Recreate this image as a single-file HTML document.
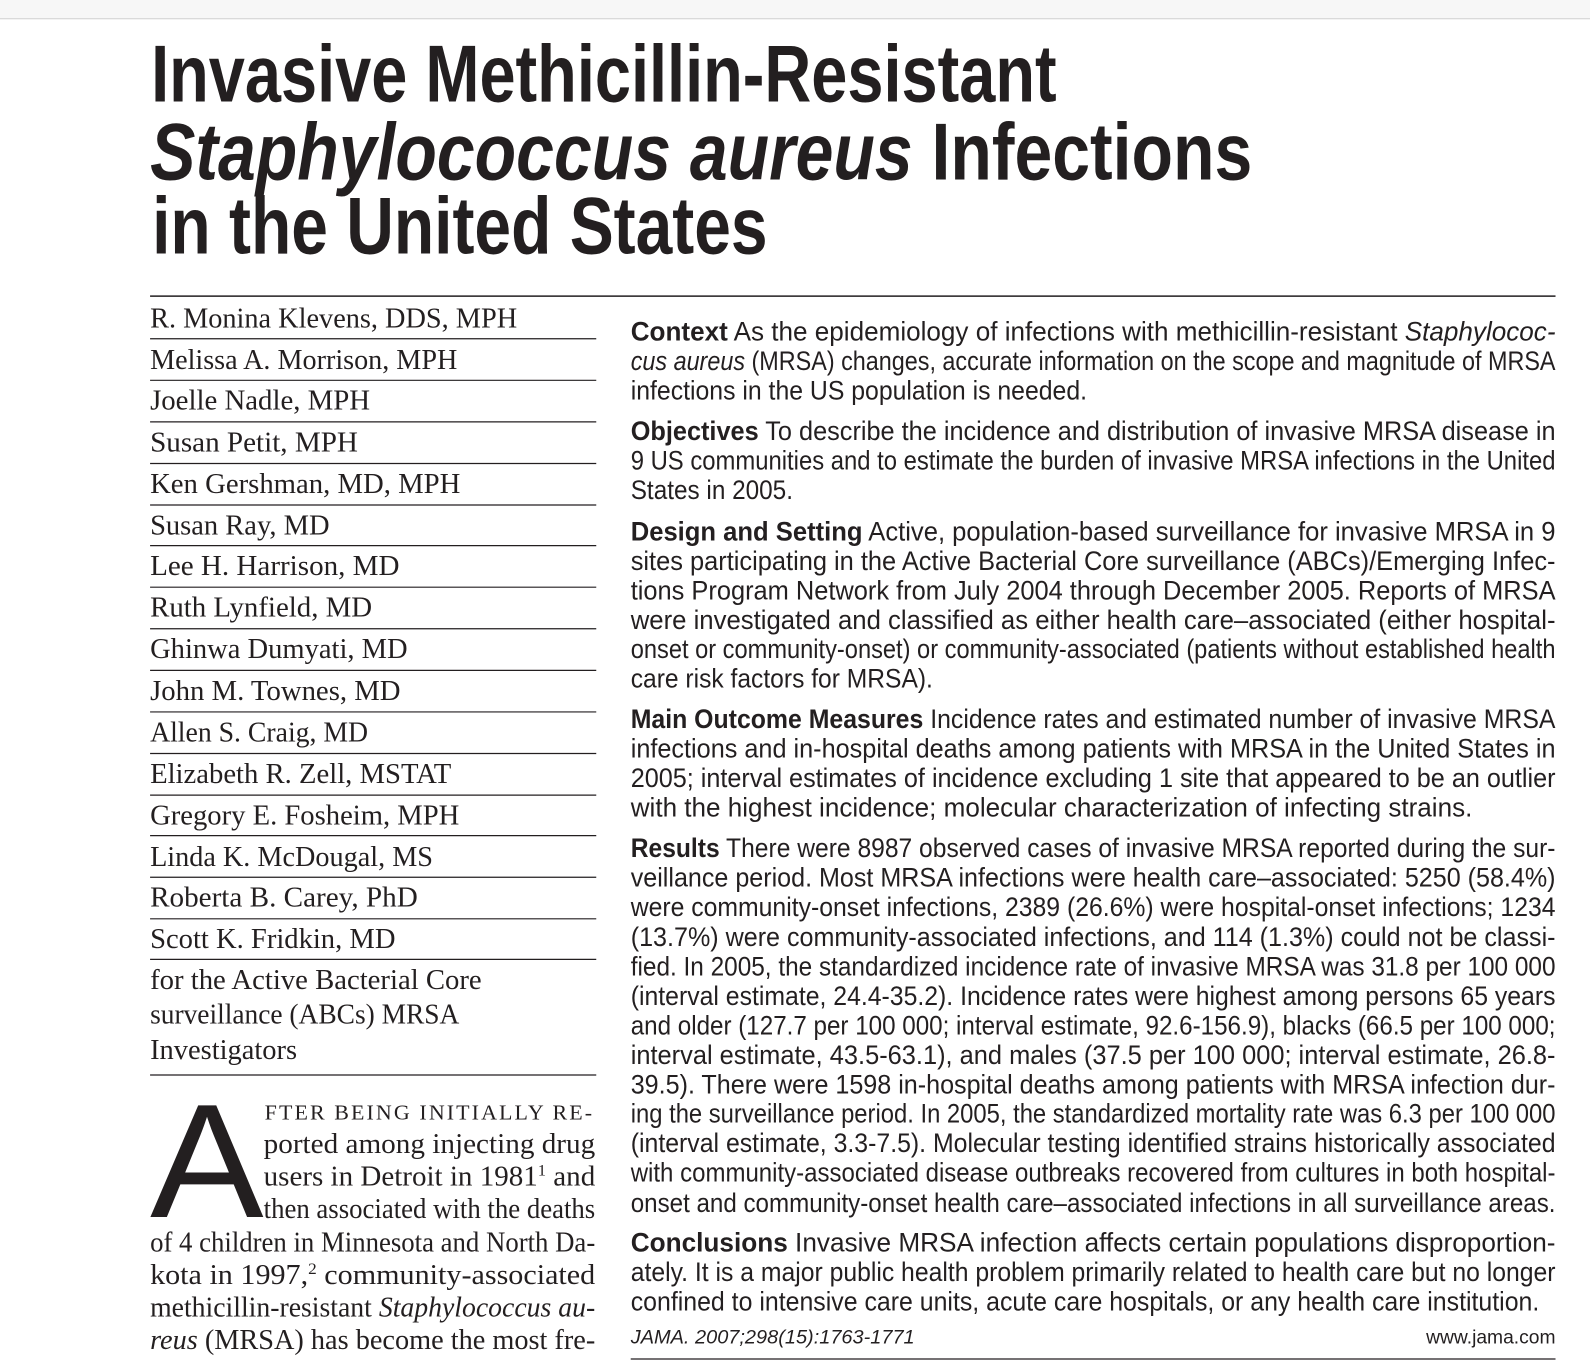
<!DOCTYPE html>
<html><head><meta charset="utf-8"><style>
html,body{margin:0;padding:0;background:#fff;}
svg{display:block}
.s{font-family:"Liberation Sans Narrow","Liberation Sans",sans-serif;}
.r{font-family:"Liberation Serif",serif;font-size:28px;fill:#231f20}
.b{font-family:"Liberation Sans Narrow","Liberation Sans",sans-serif;font-size:26px;fill:#231f20}
</style></head><body>
<svg width="1590" height="1362" viewBox="0 0 1568 1343" preserveAspectRatio="none" xmlns="http://www.w3.org/2000/svg">
<rect x="0" y="0" width="1568" height="18" fill="#f7f7f7"/>
<line x1="0" y1="18.5" x2="1568" y2="18.5" stroke="#d0d0d0" stroke-width="1"/>
<g class="s" font-weight="bold" font-size="80" fill="#231f20">
<text x="149" y="100" textLength="893" lengthAdjust="spacingAndGlyphs">Invasive Methicillin-Resistant</text>
<text x="148" y="177" textLength="1087" lengthAdjust="spacingAndGlyphs"><tspan font-style="italic">Staphylococcus aureus</tspan> Infections</text>
<text x="150" y="250" textLength="607" lengthAdjust="spacingAndGlyphs">in the United States</text>
</g>
<line x1="148" y1="292" x2="1534" y2="292" stroke="#231f20" stroke-width="1.5"/>
<g class="r">
<text x="148" y="323" textLength="362" lengthAdjust="spacingAndGlyphs">R. Monina Klevens, DDS, MPH</text>
<text x="148" y="364" textLength="303" lengthAdjust="spacingAndGlyphs">Melissa A. Morrison, MPH</text>
<text x="148" y="404" textLength="217" lengthAdjust="spacingAndGlyphs">Joelle Nadle, MPH</text>
<text x="148" y="445" textLength="205" lengthAdjust="spacingAndGlyphs">Susan Petit, MPH</text>
<text x="148" y="486" textLength="306" lengthAdjust="spacingAndGlyphs">Ken Gershman, MD, MPH</text>
<text x="148" y="527" textLength="177" lengthAdjust="spacingAndGlyphs">Susan Ray, MD</text>
<text x="148" y="567" textLength="246" lengthAdjust="spacingAndGlyphs">Lee H. Harrison, MD</text>
<text x="148" y="608" textLength="219" lengthAdjust="spacingAndGlyphs">Ruth Lynfield, MD</text>
<text x="148" y="649" textLength="254" lengthAdjust="spacingAndGlyphs">Ghinwa Dumyati, MD</text>
<text x="148" y="690" textLength="247" lengthAdjust="spacingAndGlyphs">John M. Townes, MD</text>
<text x="148" y="731" textLength="215" lengthAdjust="spacingAndGlyphs">Allen S. Craig, MD</text>
<text x="148" y="772" textLength="297" lengthAdjust="spacingAndGlyphs">Elizabeth R. Zell, MSTAT</text>
<text x="148" y="813" textLength="305" lengthAdjust="spacingAndGlyphs">Gregory E. Fosheim, MPH</text>
<text x="148" y="854" textLength="279" lengthAdjust="spacingAndGlyphs">Linda K. McDougal, MS</text>
<text x="148" y="894" textLength="264" lengthAdjust="spacingAndGlyphs">Roberta B. Carey, PhD</text>
<text x="148" y="935" textLength="242" lengthAdjust="spacingAndGlyphs">Scott K. Fridkin, MD</text>
<text x="148" y="975" textLength="327" lengthAdjust="spacingAndGlyphs">for the Active Bacterial Core</text>
<text x="148" y="1009" textLength="305" lengthAdjust="spacingAndGlyphs">surveillance (ABCs) MRSA</text>
<text x="148" y="1044" textLength="145" lengthAdjust="spacingAndGlyphs">Investigators</text>
</g>
<g stroke="#231f20" stroke-width="1.2">
<line x1="148" y1="334" x2="588" y2="334"/><line x1="148" y1="375" x2="588" y2="375"/>
<line x1="148" y1="416" x2="588" y2="416"/><line x1="148" y1="457" x2="588" y2="457"/>
<line x1="148" y1="498" x2="588" y2="498"/><line x1="148" y1="538" x2="588" y2="538"/>
<line x1="148" y1="579" x2="588" y2="579"/><line x1="148" y1="620" x2="588" y2="620"/>
<line x1="148" y1="661" x2="588" y2="661"/><line x1="148" y1="702" x2="588" y2="702"/>
<line x1="148" y1="743" x2="588" y2="743"/><line x1="148" y1="784" x2="588" y2="784"/>
<line x1="148" y1="824" x2="588" y2="824"/><line x1="148" y1="865" x2="588" y2="865"/>
<line x1="148" y1="906" x2="588" y2="906"/><line x1="148" y1="946" x2="588" y2="946"/>
<line x1="148" y1="1060" x2="588" y2="1060"/>
<line x1="622" y1="1340" x2="1534" y2="1340"/>
</g>
<text x="148" y="1200" font-family="Liberation Sans, sans-serif" font-size="160" fill="#231f20" textLength="112" lengthAdjust="spacingAndGlyphs">A</text>
<g class="r">
<text x="261" y="1104" font-size="21" letter-spacing="2" textLength="325" lengthAdjust="spacingAndGlyphs">FTER BEING INITIALLY RE-</text>
<text x="260" y="1137" textLength="327" lengthAdjust="spacingAndGlyphs">ported among injecting drug</text>
<text x="260" y="1169" textLength="327" lengthAdjust="spacingAndGlyphs">users in Detroit in 1981<tspan font-size="16" dy="-10">1</tspan><tspan dy="10"> and</tspan></text>
<text x="260" y="1201" textLength="327" lengthAdjust="spacingAndGlyphs">then associated with the deaths</text>
<text x="148" y="1234" textLength="439" lengthAdjust="spacingAndGlyphs">of 4 children in Minnesota and North Da-</text>
<text x="148" y="1266" textLength="439" lengthAdjust="spacingAndGlyphs">kota in 1997,<tspan font-size="16" dy="-10">2</tspan><tspan dy="10"> community-associated</tspan></text>
<text x="148" y="1298" textLength="439" lengthAdjust="spacingAndGlyphs">methicillin-resistant <tspan font-style="italic">Staphylococcus au-</tspan></text>
<text x="148" y="1330" textLength="439" lengthAdjust="spacingAndGlyphs"><tspan font-style="italic">reus</tspan> (MRSA) has become the most fre-</text>
</g>
<g class="b">
<text x="622" y="336" textLength="912" lengthAdjust="spacingAndGlyphs"><tspan font-weight="bold">Context</tspan>  As the epidemiology of infections with methicillin-resistant <tspan font-style="italic">Staphylococ-</tspan></text>
<text x="622" y="365" textLength="912" lengthAdjust="spacingAndGlyphs"><tspan font-style="italic">cus aureus</tspan> (MRSA) changes, accurate information on the scope and magnitude of MRSA</text>
<text x="622" y="394" textLength="450" lengthAdjust="spacingAndGlyphs">infections in the US population is needed.</text>
<text x="622" y="434" textLength="912" lengthAdjust="spacingAndGlyphs"><tspan font-weight="bold">Objectives</tspan>  To describe the incidence and distribution of invasive MRSA disease in</text>
<text x="622" y="463" textLength="912" lengthAdjust="spacingAndGlyphs">9 US communities and to estimate the burden of invasive MRSA infections in the United</text>
<text x="622" y="492" textLength="160" lengthAdjust="spacingAndGlyphs">States in 2005.</text>
<text x="622" y="533" textLength="912" lengthAdjust="spacingAndGlyphs"><tspan font-weight="bold">Design and Setting</tspan>  Active, population-based surveillance for invasive MRSA in 9</text>
<text x="622" y="562" textLength="912" lengthAdjust="spacingAndGlyphs">sites participating in the Active Bacterial Core surveillance (ABCs)/Emerging Infec-</text>
<text x="622" y="591" textLength="912" lengthAdjust="spacingAndGlyphs">tions Program Network from July 2004 through December 2005. Reports of MRSA</text>
<text x="622" y="620" textLength="912" lengthAdjust="spacingAndGlyphs">were investigated and classified as either health care–associated (either hospital-</text>
<text x="622" y="649" textLength="912" lengthAdjust="spacingAndGlyphs">onset or community-onset) or community-associated (patients without established health</text>
<text x="622" y="678" textLength="298" lengthAdjust="spacingAndGlyphs">care risk factors for MRSA).</text>
<text x="622" y="718" textLength="912" lengthAdjust="spacingAndGlyphs"><tspan font-weight="bold">Main Outcome Measures</tspan>  Incidence rates and estimated number of invasive MRSA</text>
<text x="622" y="747" textLength="912" lengthAdjust="spacingAndGlyphs">infections and in-hospital deaths among patients with MRSA in the United States in</text>
<text x="622" y="776" textLength="912" lengthAdjust="spacingAndGlyphs">2005; interval estimates of incidence excluding 1 site that appeared to be an outlier</text>
<text x="622" y="805" textLength="830" lengthAdjust="spacingAndGlyphs">with the highest incidence; molecular characterization of infecting strains.</text>
<text x="622" y="845" textLength="912" lengthAdjust="spacingAndGlyphs"><tspan font-weight="bold">Results</tspan>  There were 8987 observed cases of invasive MRSA reported during the sur-</text>
<text x="622" y="874" textLength="912" lengthAdjust="spacingAndGlyphs">veillance period. Most MRSA infections were health care–associated: 5250 (58.4%)</text>
<text x="622" y="903" textLength="912" lengthAdjust="spacingAndGlyphs">were community-onset infections, 2389 (26.6%) were hospital-onset infections; 1234</text>
<text x="622" y="933" textLength="912" lengthAdjust="spacingAndGlyphs">(13.7%) were community-associated infections, and 114 (1.3%) could not be classi-</text>
<text x="622" y="962" textLength="912" lengthAdjust="spacingAndGlyphs">fied. In 2005, the standardized incidence rate of invasive MRSA was 31.8 per 100 000</text>
<text x="622" y="991" textLength="912" lengthAdjust="spacingAndGlyphs">(interval estimate, 24.4-35.2). Incidence rates were highest among persons 65 years</text>
<text x="622" y="1020" textLength="912" lengthAdjust="spacingAndGlyphs">and older (127.7 per 100 000; interval estimate, 92.6-156.9), blacks (66.5 per 100 000;</text>
<text x="622" y="1049" textLength="912" lengthAdjust="spacingAndGlyphs">interval estimate, 43.5-63.1), and males (37.5 per 100 000; interval estimate, 26.8-</text>
<text x="622" y="1078" textLength="912" lengthAdjust="spacingAndGlyphs">39.5). There were 1598 in-hospital deaths among patients with MRSA infection dur-</text>
<text x="622" y="1107" textLength="912" lengthAdjust="spacingAndGlyphs">ing the surveillance period. In 2005, the standardized mortality rate was 6.3 per 100 000</text>
<text x="622" y="1136" textLength="912" lengthAdjust="spacingAndGlyphs">(interval estimate, 3.3-7.5). Molecular testing identified strains historically associated</text>
<text x="622" y="1165" textLength="912" lengthAdjust="spacingAndGlyphs">with community-associated disease outbreaks recovered from cultures in both hospital-</text>
<text x="622" y="1195" textLength="912" lengthAdjust="spacingAndGlyphs">onset and community-onset health care–associated infections in all surveillance areas.</text>
<text x="622" y="1234" textLength="912" lengthAdjust="spacingAndGlyphs"><tspan font-weight="bold">Conclusions</tspan>  Invasive MRSA infection affects certain populations disproportion-</text>
<text x="622" y="1263" textLength="912" lengthAdjust="spacingAndGlyphs">ately. It is a major public health problem primarily related to health care but no longer</text>
<text x="622" y="1292" textLength="896" lengthAdjust="spacingAndGlyphs">confined to intensive care units, acute care hospitals, or any health care institution.</text>
<text x="622" y="1325" font-size="19" font-style="italic" textLength="280" lengthAdjust="spacingAndGlyphs">JAMA. 2007;298(15):1763-1771</text>
<text x="1534" y="1325" font-size="19" text-anchor="end">www.jama.com</text>
</g>
</svg>
</body></html>
